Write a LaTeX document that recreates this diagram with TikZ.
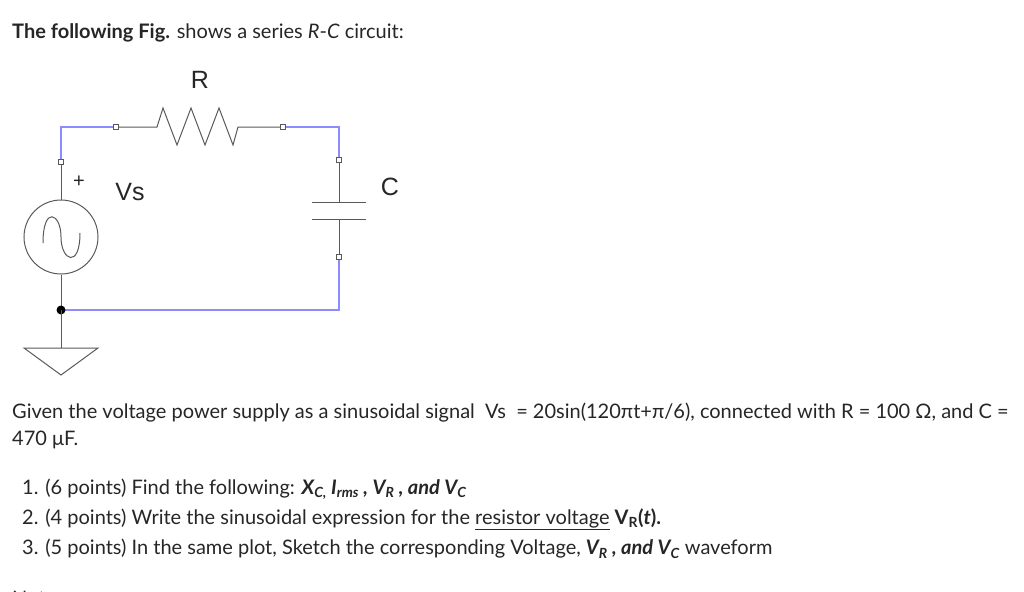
\documentclass[tikz,border=0pt]{standalone}
\usepackage{fontspec}
\setmainfont{Lato}
\newfontfamily\arialf{Liberation Sans}
\begin{document}
\begin{tikzpicture}[x=1pt,y=-1pt,
  wire/.style={draw=blue!45!white,line width=1.3pt},
  comp/.style={draw=gray!70!black,line width=1pt},
  term/.style={draw=gray!70!black,fill=white,line width=0.7pt,minimum size=5pt,inner sep=0pt,rectangle},
  lbl/.style={font=\arialf\fontsize{25}{26}\selectfont,text=black!85},
  txt/.style={anchor=west,inner sep=0pt,font=\fontsize{20}{22}\selectfont,text=black!85}]
\useasboundingbox (0,0) rectangle (1024,591);
% terminals
\node[term] (t1) at (116,127) {};
\node[term] (t2) at (283,127) {};
\node[term] (t3) at (61,162) {};
\node[term] (t4) at (339,160) {};
\node[term] (t5) at (339,257) {};
\coordinate (tl) at (61,127);
\coordinate (tr) at (339,127);
\coordinate (bl) at (61,310);
\coordinate (br) at (339,310);
\node[circle,draw=gray!70!black,line width=1pt,minimum size=74pt,inner sep=0pt] (src) at (61,237) {};
% wires
\draw[wire] (t3) -- (tl) -- (t1);
\draw[wire] (t2) -- (tr) -- (t4);
\draw[wire] (t5) -- (br) -- (bl);
% resistor
\draw[comp] (t1) -- (157,127) -- (163,108) -- (177,145) -- (191,108) -- (205,145) -- (219,108) -- (233,145) -- (238,127) -- (t2);
% capacitor
\draw[comp] (t4) -- (339,202) (312,202) -- (366,202) (312,219) -- (366,219) (339,219) -- (t5);
% source
\draw[comp] (t3) -- (src.north) (src.south) -- (bl);
\draw[comp] (43,243) .. controls (43,205) and (61,213) .. (61,237) .. controls (61,261) and (80,269) .. (80,233);
\fill (bl) circle (4.5pt);
% ground
\draw[comp] (bl) -- (61,348);
\draw[comp] (24,348) -- (98,348) -- (61,375) -- cycle;
\node[lbl,font=\arialf\fontsize{20}{20}\selectfont] (plus) at (79,182) {+};
\node[lbl] (vs) at (130,192) {Vs};
\node[lbl] (R) at (200,80) {R};
\node[lbl] (C) at (390,187) {C};
% text
\node[txt] (title) at (12,33) {\textbf{The following Fig.} shows a series \textit{R}-\textit{C} circuit:};
\node[txt] (p1) at (12,413) {Given the voltage power supply as a sinusoidal signal\ \ Vs\ \ = 20sin(120πt+π/6), connected with R = 100 Ω, and C =};
\node[txt] (p2) at (12,440) {470 μF.};
\node[txt] (l1) at (22,489) {1. (6 points) Find the following: \textbf{\textit{X\textsubscript{C,} I\textsubscript{rms} , V\textsubscript{R} , and V\textsubscript{C}}}};
\node[txt] (l2) at (22,519) {2. (4 points) Write the sinusoidal expression for the \underline{resistor voltage} \textbf{V\textsubscript{R}(\textit{t}).}};
\node[txt] (l3) at (22,549) {3. (5 points) In the same plot, Sketch the corresponding Voltage, \textbf{\textit{V\textsubscript{R} , and V\textsubscript{C}}} waveform};
\node[txt] (l4) at (12,598) {Note};
\end{tikzpicture}
\end{document}
